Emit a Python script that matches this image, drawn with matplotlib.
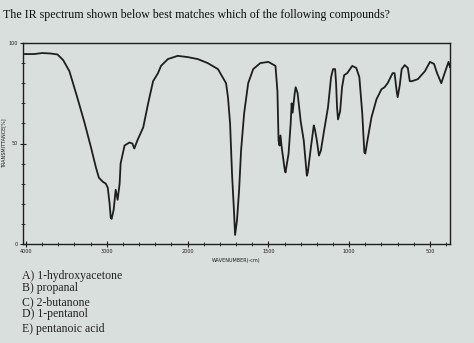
import numpy as np
import matplotlib.pyplot as plt
from matplotlib.ticker import FixedLocator

# IR spectrum (wavenumber in cm-1, transmittance in %)
wavenumber = [4037, 4000, 3900, 3800, 3700, 3610, 3540, 3463, 3366, 3280, 3195,
              3134, 3098, 3050, 3012, 2988, 2965, 2951, 2940, 2915, 2890, 2866,
              2841, 2829, 2780, 2720, 2683, 2659, 2622, 2549, 2488, 2427, 2366,
              2329, 2244, 2122, 2000, 1937, 1875, 1812, 1762, 1750, 1737, 1725,
              1712, 1706, 1694, 1681, 1669, 1650, 1625, 1594, 1550, 1500, 1456,
              1444, 1437, 1431, 1425, 1419, 1400, 1394, 1375, 1362, 1356, 1350,
              1337, 1331, 1319, 1300, 1281, 1262, 1256, 1237, 1219, 1212, 1200,
              1187, 1175, 1156, 1131, 1112, 1100, 1087, 1081, 1075, 1069, 1056,
              1044, 1031, 1012, 981, 956, 937, 919, 906, 900, 887, 862, 831, 800,
              781, 762, 731, 719, 706, 700, 687, 675, 656, 637, 625, 612, 575,
              531, 500, 475, 456, 430, 405, 385, 376]
transmittance = [94.5, 94.5, 94.5, 95.0, 94.8, 94.3, 91.5, 86.0, 73.0, 61.0, 48.0,
                 38.0, 33.0, 31.0, 30.0, 28.0, 20.0, 13.0, 12.5, 17.0, 27.0, 22.0,
                 30.0, 40.0, 49.0, 50.5, 50.0, 47.5, 51.5, 58.0, 70.0, 81.0, 85.0,
                 88.6, 92.0, 93.6, 93.0, 92.0, 90.0, 87.0, 80.0, 73.0, 60.0, 35.0,
                 15.0, 4.5, 12.0, 27.0, 46.5, 65.0, 80.0, 87.0, 90.0, 90.6, 88.6,
                 76.0, 51.5, 49.0, 54.0, 49.0, 37.6, 35.6, 45.0, 60.0, 70.0, 65.3,
                 75.0, 78.0, 75.0, 61.0, 51.5, 34.0, 35.6, 48.0, 59.0, 57.0, 51.5,
                 44.0, 46.5, 56.0, 68.0, 83.0, 87.0, 87.0, 80.0, 68.0, 62.0, 66.0,
                 78.0, 84.0, 85.0, 88.6, 87.6, 83.0, 65.0, 45.5, 45.0, 51.5, 63.0,
                 72.0, 77.0, 78.0, 80.0, 85.0, 85.0, 76.0, 73.0, 79.0, 87.0, 89.0,
                 87.6, 81.0, 81.0, 82.0, 86.0, 90.6, 89.6, 85.0, 80.0, 86.0, 90.6,
                 88.0]

major_ticks = [4000, 3000, 2000, 1500, 1000, 500]
minor_ticks = list(range(4000, 2000, -200)) + list(range(2000, 399, -100))
y_ticks = [0, 50, 100]
title = "The IR spectrum shown below best matches which of the following compounds?"
choices = ["A) 1-hydroxyacetone", "B) propanal", "C) 2-butanone",
           "D) 1-pentanol", "E) pentanoic acid"]


# half scale above 2000 cm-1, like the printed spectrum
def forward(w):
    w = np.asarray(w, dtype=float)
    return np.where(w >= 2000, 2000 + (w - 2000) / 2, w)


def inverse(u):
    u = np.asarray(u, dtype=float)
    return np.where(u >= 2000, 2000 + (u - 2000) * 2, u)


bg = '#d9dfdd'
ink = '#1e1e1e'

fig = plt.figure(figsize=(4.74, 3.43), dpi=100, facecolor=bg)
ax = fig.add_axes([23 / 474, 99 / 343, 427 / 474, 201 / 343])
ax.set_facecolor(bg)
ax.set_xscale('function', functions=(forward, inverse))
ax.plot(wavenumber, transmittance, color=ink, lw=1.3)
ax.set_xlim(4037, 376)
ax.set_ylim(0, 100)

ax.xaxis.set_major_locator(FixedLocator(major_ticks))
ax.xaxis.set_minor_locator(FixedLocator(minor_ticks))
ax.set_xticklabels([str(t) for t in major_ticks])
ax.set_yticks(y_ticks)
ax.yaxis.set_minor_locator(FixedLocator(list(range(10, 100, 10))))
ax.tick_params(axis='both', which='major', direction='inout', length=4, width=0.8,
               labelsize=3.5, colors=ink, pad=1.5)
ax.tick_params(axis='both', which='minor', direction='inout', length=2.5, width=0.6,
               colors=ink)
ax.set_xlabel("WAVENUMBER(-cm)", fontsize=3.5, color=ink, labelpad=3)
ax.set_ylabel("TRANSMITTANCE[%]", fontsize=3.5, color=ink, labelpad=2)
for s in ax.spines.values():
    s.set_color(ink)
    s.set_linewidth(1.0)

fig.text(3 / 474, 1 - 18 / 343, title, fontsize=8.6, family='Liberation Serif',
         color='#0d0d0d', va='baseline', ha='left')
baselines = [279, 291, 305, 317, 332]
for label, y in zip(choices, baselines):
    fig.text(22 / 474, 1 - y / 343, label, fontsize=8.5, family='Liberation Serif',
             color='#222222', va='baseline', ha='left')

fig.savefig('out.png', dpi=100, facecolor=bg)
